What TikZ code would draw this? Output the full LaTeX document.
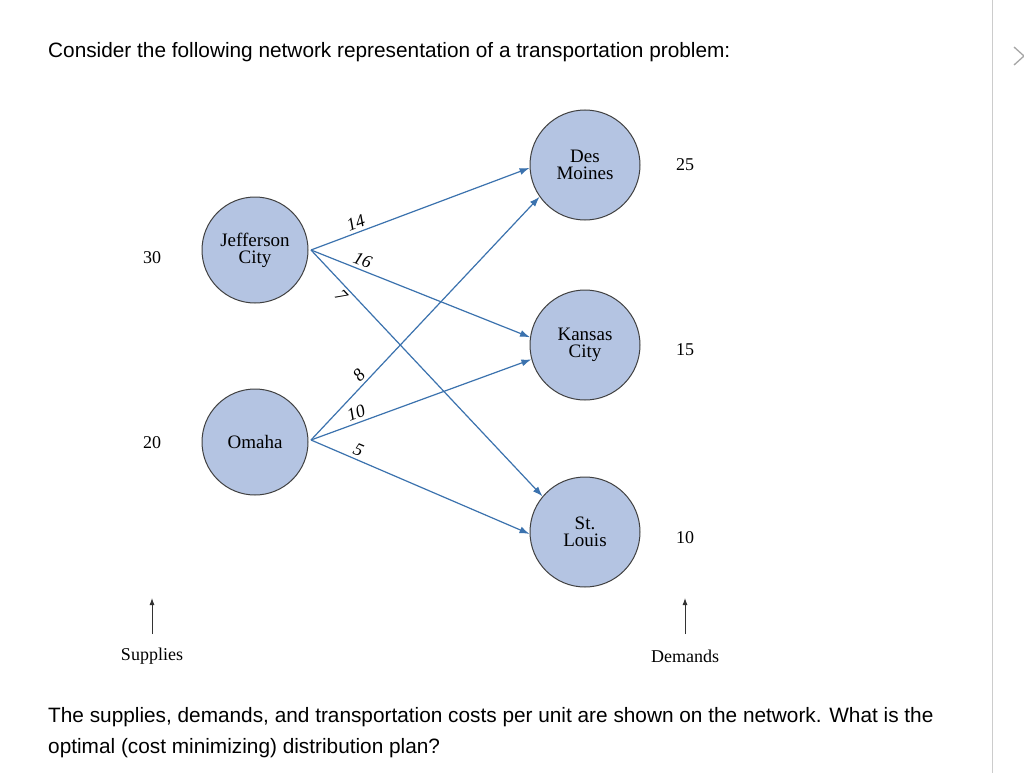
\documentclass[tikz,border=0pt]{standalone}
\usepackage{fontspec}
\setmainfont{Liberation Serif}
\newfontfamily\sansf{Liberation Sans}
\usetikzlibrary{arrows.meta}
\definecolor{nodefill}{HTML}{B4C4E2}
\definecolor{edge}{HTML}{3B72AE}
\begin{document}
\begin{tikzpicture}[x=1pt,y=-1pt,
  city/.style={circle,draw=black!75,line width=1pt,fill=nodefill,minimum size=106pt,inner sep=0pt,align=center,font=\fontsize{19}{17}\selectfont},
  flow/.style={draw=edge,line width=1.2pt,-{Latex[length=10pt,width=7pt]}},
  lab/.style={font=\fontsize{18}{18}\selectfont\itshape,sloped,above,inner sep=3pt},
  num/.style={font=\fontsize{18}{18}\selectfont},
  txt/.style={font=\sansf\fontsize{20.8}{20.8}\selectfont,anchor=west,inner sep=0pt}]
\useasboundingbox (0,0) rectangle (1024,773);
\fill[white] (0,0) rectangle (1024,773);
\draw[gray!40,line width=1pt] (992,0) -- (992,773);
\draw[gray!70,line width=1.3pt] (1014,47) -- (1024,56);
\draw[gray!70,line width=1.3pt] (1014,65) -- (1024,56);
\node[txt] (title) at (48,52) {Consider the following network representation of a transportation problem:};
\node[txt] (b1) at (48,717) {The supplies, demands, and transportation costs per unit are shown on the network. What is the};
\node[txt] (b2) at (48,748) {optimal (cost minimizing) distribution plan?};
\node[city] (jc) at (255,250) {Jefferson\\City};
\node[city] (om) at (255,442) {Omaha};
\node[city,minimum size=110pt] (dm) at (585,165) {Des\\Moines};
\node[city,minimum size=110pt] (kc) at (585,345) {Kansas\\City};
\node[city,minimum size=110pt] (sl) at (585,532) {St.\\Louis};
\coordinate (jo) at (311,250);
\coordinate (oo) at (311,440);
\draw[flow] (jo) -- node[lab,pos=0.22]{14} (dm.183);
\draw[flow] (jo) -- node[lab,pos=0.22]{16} (kc.172);
\draw[flow] (jo) -- node[lab,pos=0.16,below,sloped]{7} (sl.140);
\draw[flow] (oo) -- node[lab,pos=0.24]{8} (dm.215);
\draw[flow] (oo) -- node[lab,pos=0.22]{10} (kc.195);
\draw[flow] (oo) -- node[lab,pos=0.2]{5} (sl.182);
\node[num] (s1) at (152,258) {30};
\node[num] (s2) at (152,443) {20};
\node[num] (d1) at (685,165) {25};
\node[num] (d2) at (685,350) {15};
\node[num] (d3) at (685,538) {10};
\node[num] (sup) at (152,656) {Supplies};
\node[num] (dem) at (685,656) {Demands};
\coordinate (sa) at (152,634);
\coordinate (da) at (685,634);
\draw[black!80,line width=0.9pt,-{Latex[length=7pt,width=5pt]}] (sa) -- (152,598);
\draw[black!80,line width=0.9pt,-{Latex[length=7pt,width=5pt]}] (da) -- (685,598);
\end{tikzpicture}
\end{document}
